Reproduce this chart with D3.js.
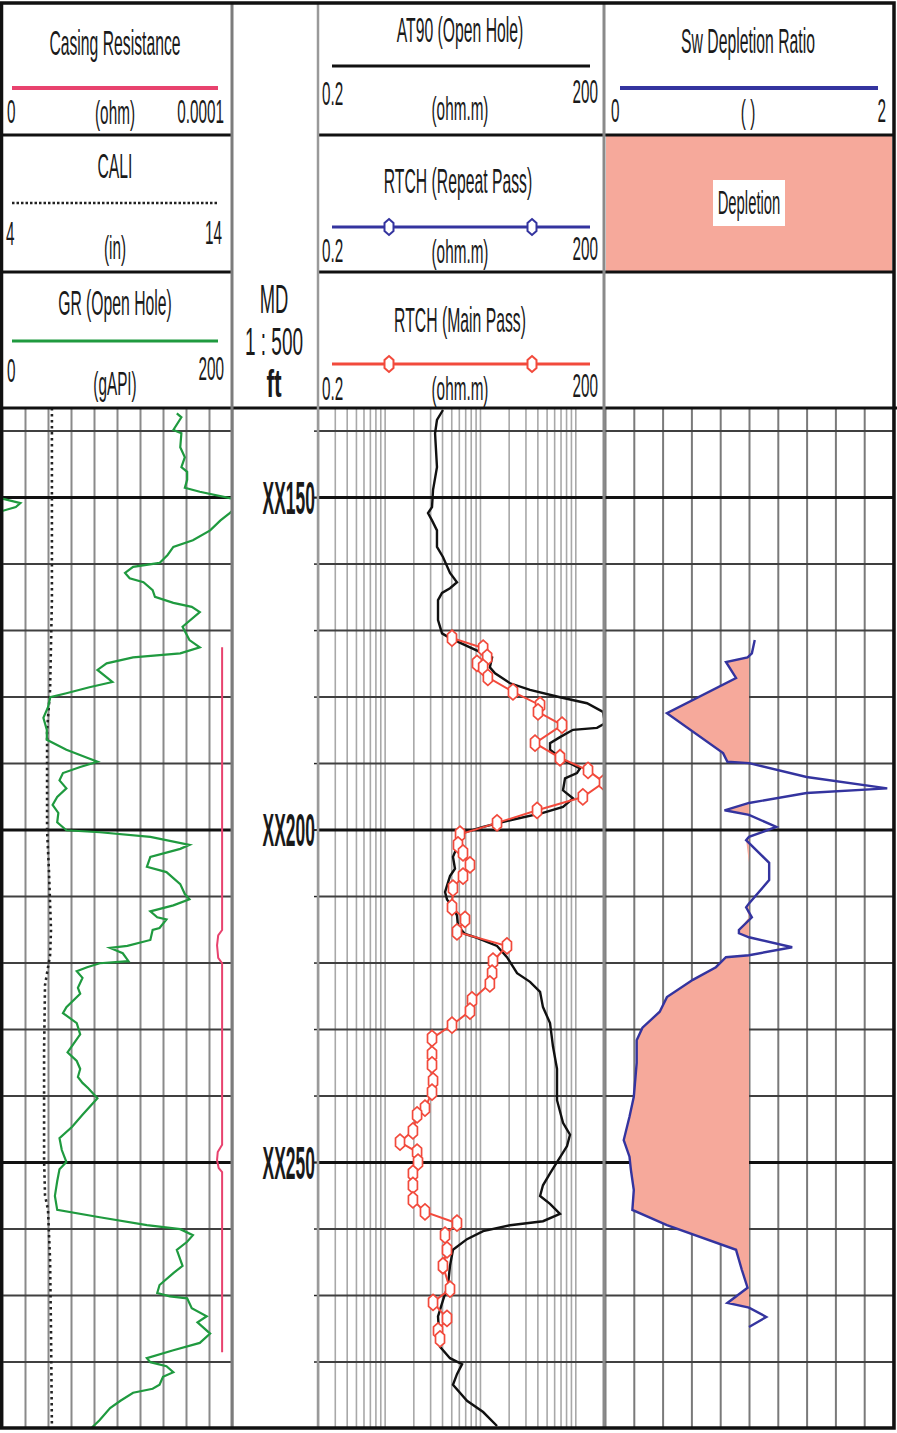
<!DOCTYPE html>
<html>
<head>
<meta charset="utf-8">
<script src="https://cdn.jsdelivr.net/npm/d3@7"></script>
<style>
  body { margin: 0; background: #fff; }
  text { fill: #1a1a1a; }
</style>
</head>
<body>
<div id="chart"></div>
<script>
const depthTicks = [140, 150, 160, 170, 180, 190, 200, 210, 220, 230, 240, 250, 260, 270, 280];
const depthLabels = [150, 200, 250];

// GR (Open Hole), gAPI
const grDepth = [137.4,138.0,139.9,140.4,142.5,144.0,145.5,146.2,147.4,148.6,
  149.2,150.15,150.3,150.9,151.5,152.1,152.4,153.5,155.0,156.5,
  157.5,158.7,159.9,160.5,161.4,162.2,162.8,164.0,165.0,165.9,
  166.5,167.3,169.5,171.5,172.6,173.5,174.1,175.0,176.0,177.8,
  178.6,179.5,180.1,181.6,183.2,185.0,186.5,188.0,189.2,189.8,
  190.6,191.5,192.6,193.8,195.1,196.3,197.5,198.9,200.1,200.4,
  201.1,202.3,202.9,204.1,205.6,206.4,208.2,209.7,210.5,211.4,
  212.3,213.2,213.5,214.8,215.1,216.6,217.5,217.8,218.6,219.8,
  220.1,220.7,221.3,222.3,223.8,224.7,226.7,227.6,229.1,230.8,
  233.5,234.8,236.0,237.2,238.1,238.9,240.4,242.9,244.7,246.4,
  248.2,250.0,251.1,252.9,255.1,257.2,258.3,259.5,260.1,261.0,
  262.0,263.2,265.6,266.7,268.5,269.7,270.2,270.5,272.0,273.2,
  274.1,275.8,277.2,278.3,279.5,280.1,280.7,281.6,282.3,283.5,
  284.1,284.7,285.9,287.0,288.8,290.3];
const grValue = [152,156,149,156,155,159,156,161,161,159,
  172,198,202,216,212,200,198,190,181,166,
  149,144,137,114,107,111,123,131,133,149,
  165,172,157,163,172,155,114,91,83,96,
  76,56,42,40,36,39,39,56,74,83,
  68,53,50,56,48,44,49,48,56,85,
  129,163,155,129,126,143,155,159,163,149,
  129,135,143,137,131,129,109,94,105,110,
  85,74,65,70,66,68,56,53,65,68,
  57,65,68,66,70,75,83,70,61,50,
  52,56,50,48,46,48,85,126,155,166,
  161,152,157,149,137,135,146,161,165,178,
  170,181,172,149,126,129,143,149,140,137,
  131,114,103,94,85,76];

// CALI, in
const caliDepth = [136.6,150,165.5,179.0,185.0,200.1,206.1,215.1,218.9,223.4,233.2,249.7,255.0,257.2,264.7,275.3,290];
const caliValue = [6.17,6.17,6.17,6.09,5.96,5.96,6.04,6.13,6.09,5.87,5.83,5.83,5.87,6.00,6.09,6.13,6.17];

// Casing Resistance, ohm
const casDepth = [172.6,215.1,215.9,217.4,219.3,220.1,247.4,248.5,249.7,250.9,251.5,278.6];
const casValue = [9.57e-5,9.57e-5,9.40e-5,9.35e-5,9.40e-5,9.57e-5,9.57e-5,9.38e-5,9.35e-5,9.42e-5,9.57e-5,9.57e-5];

// AT90 (Open Hole), ohm.m
const at90Depth = [136.9,138.4,140.4,145.5,148.9,151.5,152.4,153.5,155.0,157.5,
  159.0,161.4,162.8,163.7,164.4,165.5,168.5,170.5,171.2,172.6,
  173.5,174.1,175.6,176.5,178.0,179.0,180.1,181.0,182.3,184.0,
  184.7,185.0,186.1,187.0,188.0,189.5,190.8,191.5,192.3,194.1,
  195.3,196.6,197.5,198.6,199.6,200.5,201.6,202.3,204.1,205.9,
  207.0,209.4,210.5,211.7,212.9,214.5,215.7,216.3,217.5,219.2,
  221.6,222.9,224.4,226.7,229.1,232.6,236.0,240.7,244.1,245.9,
  247.6,250.0,251.7,253.5,255.1,256.3,257.8,258.9,259.5,260.4,
  261.6,263.2,265.6,268.5,270.8,273.2,277.8,279.5,280.4,281.9,
  283.5,285.9,287.6,289.7];
const at90Value = [4.09,3.54,3.38,3.54,3.22,3.14,2.85,3.14,3.54,3.54,
  4.09,4.85,5.74,4.85,4.0,3.63,3.63,4.0,4.85,7.86,
  10.8,13.4,12.7,14.4,20.7,33.5,69.1,132.7,195,205,
  169,94.6,69.1,54.3,54.3,74.3,112,104,78,74.3,
  94.6,74.3,45.8,20.7,10.8,6.64,6.18,5.88,5.21,5.47,
  4.85,4.30,4.51,5.21,5.74,5.88,6.97,9.31,15.1,19.2,
  24.5,33.5,42.7,45.8,54.3,58.3,64.3,64.3,74.3,88,
  81.9,64.3,54.3,45.8,42.7,54.3,69.1,45.8,20.7,10.8,
  7.31,5.21,4.85,4.62,4.09,3.63,3.81,4.85,6.49,5.74,
  5.21,7.31,10.8,15.1];

// RTCH (Main Pass), ohm.m
const rtchDepth = [171.2,172.7,174.1,175.0,175.6,177.1,179.3,181.3,182.3,184.3,
  187.0,189.2,191.1,192.9,195.1,197.1,199.0,200.7,202.3,203.5,
  205.3,207.0,208.8,211.7,213.5,215.4,217.5,219.8,221.6,223.2,
  225.6,227.3,229.4,231.4,233.8,235.4,237.8,239.5,241.9,242.9,
  245.3,247.0,248.5,250.0,251.7,253.5,255.7,257.5,259.2,261.0,
  263.2,265.6,269.1,271.1,273.5,275.4,276.6];
const rtchValue = [5.09,10.8,11.9,9.31,10.8,12.1,22.2,42.7,40.6,72.6,
  37.8,69.1,136,200,120,39.7,15.1,6.18,5.88,6.64,
  7.86,6.64,5.21,5.09,6.97,5.74,19.2,13.7,13.4,12.7,
  8.25,7.86,5.09,3.14,3.14,3.14,3.22,3.14,2.65,2.19,
  1.98,1.45,2.19,2.24,1.98,1.98,1.98,2.65,5.74,4.30,
  4.51,4.09,4.85,3.22,4.51,3.63,3.81];

// Sw Depletion Ratio
const swDepth = [171.5,173.5,174.1,174.8,177.2,182.5,188.5,189.8,190.0,192.1,
  193.8,194.5,196.0,197.1,197.8,199.6,201.1,201.6,205.0,207.6,
  211.1,211.7,213.2,215.1,215.6,216.2,217.7,218.9,219.2,220.7,
  222.6,225.2,227.4,229.8,231.7,235.1,240.2,243.2,246.7,249.2,
  251.2,254.2,257.2,259.5,263.2,266.2,268.9,271.2,271.9,273.3,
  274.8];
const swValue = [1.04,1.02,0.99,0.84,0.91,0.43,0.82,0.85,1.00,1.40,
  1.96,1.40,1.00,0.83,1.00,1.19,1.00,0.98,1.14,1.14,
  1.00,0.98,1.02,0.93,0.93,1.00,1.30,1.00,0.84,0.77,
  0.61,0.43,0.38,0.26,0.22,0.22,0.20,0.17,0.13,0.17,
  0.18,0.20,0.19,0.43,0.91,0.95,0.99,0.85,1.00,1.12,
  1.00];

const pink = "#e8426e", red = "#f24a3c", blue = "#34349f", green = "#1f9a3f", salmon = "#f6a99b";

const W = 897, H = 1433;
const yTop = 408, yBot = 1428;
const hdrY = [4, 135, 272, 408];
const t1 = [2, 232], td = [232, 318], t3 = [318, 604], t4 = [605, 893];

const svg = d3.select("#chart").append("svg")
  .attr("width", W).attr("height", H)
  .style("font-family", "'Liberation Sans', Arial, sans-serif");

const y = d3.scaleLinear().domain([136.6, 290]).range([yTop, yBot]);
const grX = d3.scaleLinear().domain([0, 200]).range(t1);
const caliX = d3.scaleLinear().domain([4, 14]).range(t1);
const casX = d3.scaleLinear().domain([0, 0.0001]).range(t1);
const resX = d3.scaleLog().domain([0.2, 200]).range(t3);
const swX = d3.scaleLinear().domain([0, 2]).range(t4);

// clip each track
const defs = svg.append("defs");
[["c1", t1], ["c3", t3], ["c4", t4]].forEach(([id, r]) => {
  defs.append("clipPath").attr("id", id).append("rect")
    .attr("x", r[0]).attr("y", yTop).attr("width", r[1] - r[0]).attr("height", yBot - yTop);
});

// vertical grid
function vGrid(scale, ticks, color, width) {
  const g = svg.append("g").attr("transform", `translate(0,${yTop})`)
    .call(d3.axisBottom(scale).tickValues(ticks).tickSize(yBot - yTop).tickFormat(""));
  g.select(".domain").remove();
  g.selectAll("line").attr("stroke", color).attr("stroke-width", width);
}
vGrid(grX, d3.range(0, 201, 20), "#8a8a8a", 2);
vGrid(resX, resX.ticks(), "#a8a8a8", 1.6);
vGrid(swX, d3.range(0, 2.01, 0.2), "#7a7a7a", 2);

// horizontal grid, heavier every 50 ft
function hGrid(r) {
  const g = svg.append("g").attr("transform", `translate(${r[0]},0)`)
    .call(d3.axisRight(y).tickValues(depthTicks).tickSize(r[1] - r[0]).tickFormat(""));
  g.select(".domain").remove();
  g.selectAll("line")
    .attr("stroke", d => d % 50 === 0 ? "#111" : "#404040")
    .attr("stroke-width", d => d % 50 === 0 ? 3 : 2);
}
hGrid(t1);
hGrid([t3[0], t4[1]]);

const line = (xs, depths, vals) => d3.line()
  .x((d, i) => xs(vals[i])).y(d => y(d))(depths);

// track 1
const g1 = svg.append("g").attr("clip-path", "url(#c1)");
g1.append("path").attr("d", line(caliX, caliDepth, caliValue))
  .attr("fill", "none").attr("stroke", "#222").attr("stroke-width", 2.6).attr("stroke-dasharray", "2.5,3.5");
g1.append("path").attr("d", line(casX, casDepth, casValue))
  .attr("fill", "none").attr("stroke", pink).attr("stroke-width", 2);
g1.append("path").attr("d", line(grX, grDepth, grValue))
  .attr("fill", "none").attr("stroke", green).attr("stroke-width", 2.2);
// backup wrap for GR above 200
g1.append("path").attr("d", line(grX, grDepth, grValue.map(v => v - 200)))
  .attr("fill", "none").attr("stroke", green).attr("stroke-width", 2.2);

// track 3
const g3 = svg.append("g").attr("clip-path", "url(#c3)");
g3.append("path").attr("d", line(resX, at90Depth, at90Value))
  .attr("fill", "none").attr("stroke", "#111").attr("stroke-width", 2.4);
g3.append("path").attr("d", line(resX, rtchDepth, rtchValue))
  .attr("fill", "none").attr("stroke", red).attr("stroke-width", 2);
const marker = "M0,-8L4.5,-4L4.5,4L0,8L-4.5,4L-4.5,-4Z";
g3.selectAll(".mk").data(rtchDepth).enter().append("path")
  .attr("d", marker)
  .attr("transform", (d, i) => `translate(${resX(rtchValue[i])},${y(d)})`)
  .attr("fill", "#fff").attr("stroke", red).attr("stroke-width", 1.7);

// track 4
const g4 = svg.append("g").attr("clip-path", "url(#c4)");
g4.append("path")
  .attr("d", d3.area()
    .x0((d, i) => swX(Math.min(swValue[i], 1)))
    .x1(swX(1))
    .y(d => y(d))(swDepth))
  .attr("fill", salmon);
g4.append("path").attr("d", line(swX, swDepth, swValue))
  .attr("fill", "none").attr("stroke", blue).attr("stroke-width", 2.4);

// depth track labels and ticks
const dAxis = svg.append("g").attr("transform", `translate(${td[1]},0)`)
  .call(d3.axisLeft(y).tickValues(depthTicks).tickSize(4).tickFormat(""));
dAxis.select(".domain").remove();
dAxis.selectAll("line").attr("stroke", "#222").attr("stroke-width", 1.5);
const lAxis = svg.append("g").attr("transform", `translate(${td[1]},0)`)
  .call(d3.axisLeft(y).tickValues(depthLabels).tickSize(4).tickFormat(d => "XX" + d));
lAxis.select(".domain").remove();
lAxis.selectAll("line").attr("stroke", "#222").attr("stroke-width", 2);
lAxis.selectAll("text")
  .attr("x", -3 / 0.38).attr("y", 16).attr("dy", null)
  .attr("transform", "scale(0.38,1)")
  .style("font-size", "46px").style("font-weight", "bold")
  .style("font-family", "'Liberation Sans', Arial, sans-serif")
  .attr("fill", "#1a1a1a");

// header
const hg = svg.append("g");
function txt(x, yy, s, size, anchor, sx) {
  return hg.append("text")
    .attr("transform", `translate(${x},${yy}) scale(${sx},1)`)
    .attr("text-anchor", anchor)
    .style("font-size", size + "px")
    .text(s);
}
function swatch(x0, x1, yy, color, w, dash) {
  hg.append("line").attr("x1", x0).attr("x2", x1).attr("y1", yy).attr("y2", yy)
    .attr("stroke", color).attr("stroke-width", w).attr("stroke-dasharray", dash || null);
}
function scaleRow(yl, left, unit, right, yu, yr, x0, xc, x1) {
  txt(x0, yl, left, 34, "start", 0.45);
  txt(xc, yu, unit, 34, "middle", 0.45);
  txt(x1, yr, right, 34, "end", 0.45);
}

// track 1 header
txt(115, 55, "Casing Resistance", 35, "middle", 0.45);
swatch(12, 218, 88, pink, 4);
scaleRow(123, "0", "(ohm)", "0.0001", 124, 123, 7, 115, 224);
txt(115, 178, "CALI", 35, "middle", 0.45);
swatch(12, 218, 203, "#222", 2.4, "2.5,2");
scaleRow(245, "4", "(in)", "14", 259, 244, 6, 115, 222);
txt(115, 315, "GR (Open Hole)", 35, "middle", 0.45);
swatch(12, 218, 341, green, 3);
scaleRow(382, "0", "(gAPI)", "200", 395, 380, 7, 115, 224);

// depth header
txt(274, 313, "MD", 40, "middle", 0.46);
txt(274, 355, "1 : 500", 38, "middle", 0.5);
txt(274, 397, "ft", 38, "middle", 0.6).style("font-weight", "bold");

// track 3 header
txt(460, 42, "AT90 (Open Hole)", 35, "middle", 0.45);
swatch(332, 590, 66, "#111", 3);
scaleRow(105, "0.2", "(ohm.m)", "200", 120, 103, 322, 460, 598);
txt(458, 193, "RTCH (Repeat Pass)", 35, "middle", 0.45);
swatch(332, 590, 227, blue, 3);
scaleRow(262, "0.2", "(ohm.m)", "200", 263, 260, 322, 460, 598);
txt(460, 332, "RTCH (Main Pass)", 35, "middle", 0.45);
swatch(332, 590, 364, red, 3);
scaleRow(400, "0.2", "(ohm.m)", "200", 400, 397, 322, 460, 598);
[[227, blue], [364, red]].forEach(([yy, c]) => {
  [389, 532].forEach(x => hg.append("path").attr("d", marker)
    .attr("transform", `translate(${x},${yy})`)
    .attr("fill", "#fff").attr("stroke", c).attr("stroke-width", 2));
});

// track 4 header
txt(748, 53, "Sw Depletion Ratio", 35, "middle", 0.45);
swatch(620, 878, 88, blue, 4);
scaleRow(122, "0", "( )", "2", 123, 122, 611, 748, 886);
hg.append("rect").attr("x", t4[0] + 1).attr("y", hdrY[1]).attr("width", t4[1] - t4[0] - 2)
  .attr("height", hdrY[2] - hdrY[1]).attr("fill", salmon);
hg.append("rect").attr("x", 713).attr("y", 180).attr("width", 72).attr("height", 46).attr("fill", "#fff");
txt(749, 214, "Depletion", 33, "middle", 0.45);

// separators and frame
const fr = svg.append("g");
[hdrY[1], hdrY[2]].forEach(yy => {
  fr.append("line").attr("x1", t1[0]).attr("x2", t1[1]).attr("y1", yy).attr("y2", yy).attr("stroke", "#111").attr("stroke-width", 3);
  fr.append("line").attr("x1", t3[0]).attr("x2", t4[1]).attr("y1", yy).attr("y2", yy).attr("stroke", "#111").attr("stroke-width", 3);
});
fr.append("line").attr("x1", 0).attr("x2", W).attr("y1", yTop).attr("y2", yTop).attr("stroke", "#111").attr("stroke-width", 3);
[[t1[1], "#7c7c7c", 3], [td[1], "#9a9a9a", 2.5], [t3[1], "#8a8a8a", 3]].forEach(([x, c, w]) => {
  fr.append("line").attr("x1", x).attr("x2", x).attr("y1", hdrY[0]).attr("y2", yBot).attr("stroke", c).attr("stroke-width", w);
});
fr.append("rect").attr("x", 1.5).attr("y", 3).attr("width", 892.5).attr("height", yBot - 3)
  .attr("fill", "none").attr("stroke", "#111").attr("stroke-width", 3.5);
</script>
</body>
</html>
